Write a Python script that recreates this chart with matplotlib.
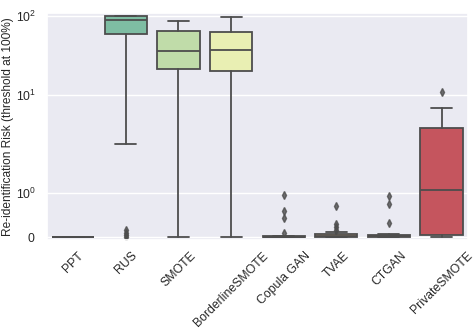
import numpy as np
import matplotlib.pyplot as plt
import seaborn as sns

# categories and box statistics
methods = ['PPT', 'RUS', 'SMOTE', 'BorderlineSMOTE', 'Copula GAN', 'TVAE', 'CTGAN', 'PrivateSMOTE']
q1 = [0.0, 58.0, 21.0, 20.0, 0.0, 0.0, 0.0, 0.04]
med = [0.0, 89.0, 35.5, 37.0, 0.0, 0.02, 0.01, 1.07]
q3 = [0.0, 99.0, 64.0, 61.5, 0.01, 0.07, 0.05, 3.75]
whislo = [0.0, 2.35, 0.0, 0.0, 0.0, 0.0, 0.0, 0.0]
whishi = [0.0, 100.0, 87.0, 96.0, 0.02, 0.12, 0.07, 6.8]
fliers = [
    [],
    [0.0, 0.05, 0.1, 0.15],
    [],
    [],
    [0.97, 0.59, 0.43, 0.1],
    [0.71, 0.29, 0.23, 0.16],
    [0.93, 0.75, 0.31],
    [10.9],
]

sns.set_theme(style='darkgrid')
plt.rcParams['font.family'] = ['Liberation Sans', 'DejaVu Sans']

fig, ax = plt.subplots(figsize=(4.74, 3.31), dpi=100)
fig.subplots_adjust(left=0.099, right=0.987, bottom=0.275, top=0.961)

stats = []
for i, m in enumerate(methods):
    stats.append(dict(label=m, q1=q1[i], med=med[i], q3=q3[i],
                      whislo=whislo[i], whishi=whishi[i], fliers=fliers[i]))

# seaborn-like desaturated palette
colors = sns.color_palette('Spectral_r', len(methods), desat=0.75)
line_c = '#4d4d4d'
bp = ax.bxp(stats, positions=np.arange(len(methods)), widths=0.8, patch_artist=True,
            boxprops=dict(edgecolor=line_c, linewidth=1.3),
            medianprops=dict(color=line_c, linewidth=1.3),
            whiskerprops=dict(color=line_c, linewidth=1.3),
            capprops=dict(color=line_c, linewidth=1.3),
            flierprops=dict(marker='d', markersize=4, markerfacecolor=line_c,
                            markeredgecolor=line_c, alpha=0.8))
for patch, c in zip(bp['boxes'], colors):
    patch.set_facecolor(c)

ax.set_yscale('symlog', linthresh=2)
ax.set_yticks([0, 1, 10, 100])
ax.set_ylim(-0.07, 109)
ax.set_xlim(-0.5, len(methods) - 0.5)
ax.set_xticks(np.arange(len(methods)))
ax.set_xticklabels(methods, rotation=45, fontsize=8.8)
ax.tick_params(axis='y', labelsize=8.8, pad=2)
ax.tick_params(axis='x', pad=1)
ax.set_ylabel('Re-identification Risk (threshold at 100%)', fontsize=8.6, labelpad=1)
ax.grid(axis='x', visible=False)

fig.savefig('out.png', dpi=100)
